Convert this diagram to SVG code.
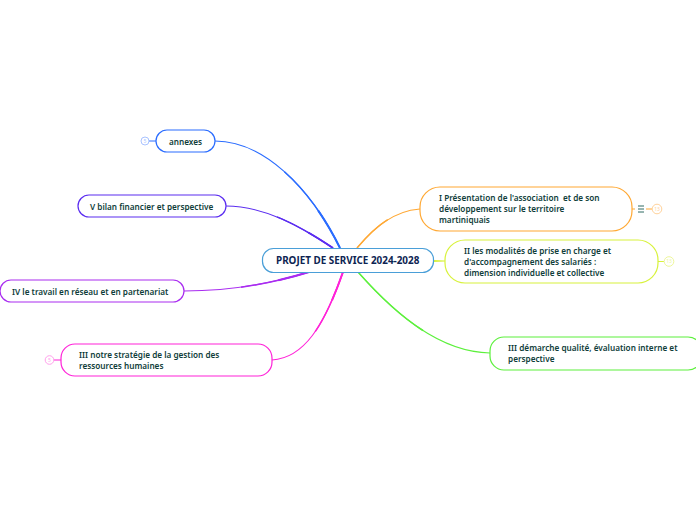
<svg xmlns="http://www.w3.org/2000/svg" width="696" height="520" viewBox="0 0 696 520">
<style>
text{font-family:"Noto Sans","DejaVu Sans",sans-serif;font-weight:600;font-size:8.2px;fill:#0f3d3a;white-space:pre}
.n{fill:#fff;stroke-width:1.2}
.b{fill:#fff;stroke-width:1}
.b2{font-size:5px;font-weight:400;text-anchor:middle}
.l{fill:none;stroke-width:1}
.c{fill:none;stroke-width:1.1}
.c2{fill:none;stroke-width:1.5;stroke-dasharray:55 100;stroke-dashoffset:-45}
.c3{fill:none;stroke-width:2;stroke-dasharray:25 100;stroke-dashoffset:-75}
</style>
<defs>
<path id="p1" pathLength="100" d="M215 141C262 141 309 185 340 248"/>
<path id="p2" pathLength="100" d="M226 206C264 206 300 226 333 248"/>
<path id="p3" pathLength="100" d="M184 291C230 291 270 284 309 272"/>
<path id="p4" pathLength="100" d="M272 360C304 358 324 326 343 272"/>
<path id="p5" pathLength="100" d="M420 209C392 211 373 229 357 248"/>
<path id="p6" pathLength="100" d="M490 353C440 352 396 315 358 272"/>
</defs>
<rect width="696" height="520" fill="#fff"/>
<g id="connectors">
<g stroke="#2a6cff"><use href="#p1" class="c"/><use href="#p1" class="c2"/><use href="#p1" class="c3"/></g>
<g stroke="#5b2df0"><use href="#p2" class="c"/><use href="#p2" class="c2"/><use href="#p2" class="c3"/></g>
<g stroke="#a92cf0"><use href="#p3" class="c"/><use href="#p3" class="c2"/><use href="#p3" class="c3"/></g>
<g stroke="#ff22d8"><use href="#p4" class="c"/><use href="#p4" class="c2"/><use href="#p4" class="c3"/></g>
<g stroke="#ffa833"><use href="#p5" class="c"/><use href="#p5" class="c2"/></g>
<path d="M434 260L445 260.500L445 261.500L434 262Z" fill="#d8f23c"/>
<g stroke="#5cf03c"><use href="#p6" class="c"/><use href="#p6" class="c2"/></g>
<path class="l" d="M632 209H635M652 209H646" stroke="#ffa833"/>
<path class="l" d="M658 261.500H664" stroke="#d8f23c"/>
<path class="l" d="M149 141H156" stroke="#2a6cff"/>
<path class="l" d="M54 360H61" stroke="#ff22d8"/>
</g>
<g id="center"><rect x="262.500" y="248.500" width="171" height="24" rx="11" fill="#fff" stroke="#4a9fd8" stroke-width="1.2"/><text x="276" y="264" style="font-size:9.9px;font-weight:700;fill:#0d2452">PROJET DE SERVICE 2024-2028</text></g>
<g id="annexes"><rect class="n" x="156" y="130" width="59" height="22" rx="11" stroke="#2a6cff"/><text x="169" y="144.500">annexes</text>
<circle class="b" cx="145" cy="141" r="4" stroke="#a9c3ff"/><text class="b2" x="145" y="142.800" style="fill:#a9c3ff">5</text></g>
<g id="v"><rect class="n" x="78" y="195" width="148" height="22" rx="11" stroke="#5b2df0"/><text x="90" y="209.500">V bilan financier et perspective</text></g>
<g id="iv"><rect class="n" x="0" y="280" width="184" height="22" rx="11" stroke="#a92cf0"/><text x="12" y="294.500">IV le travail en réseau et en partenariat</text></g>
<g id="iii-rh"><rect class="n" x="61" y="344" width="211" height="32" rx="14" stroke="#ff22d8"/><text x="79" y="358">III notre stratégie de la gestion des</text><text x="79" y="369">ressources humaines</text>
<circle class="b" cx="49.500" cy="360" r="4.300" stroke="#ffa0ec"/><text class="b2" x="49.500" y="361.800" style="fill:#ffa0ec">5</text></g>
<g id="i"><rect class="n" x="420" y="187" width="212" height="44" rx="20" stroke="#ffa833"/><text x="439" y="201">I Présentation de l'association  et de son</text><text x="439" y="212">développement sur le territoire</text><text x="439" y="223">martiniquais</text>
<path d="M638 206H644M638 209H644M638 212H644" stroke="#2f6b62" stroke-width="1" fill="none"/>
<circle class="b" cx="657" cy="209" r="4.800" stroke="#ffd29a"/><text class="b2" x="657" y="210.800" style="fill:#ffd29a">13</text></g>
<g id="ii"><rect class="n" x="445" y="240" width="213" height="43" rx="20" stroke="#d8f23c"/><text x="464" y="254">II les modalités de prise en charge et</text><text x="464" y="265">d'accompagnement des salariés :</text><text x="464" y="276">dimension individuelle et collective</text>
<circle class="b" cx="669" cy="261.500" r="4.800" stroke="#eef79a"/><text class="b2" x="669" y="263.300" style="fill:#eef79a">13</text></g>
<g id="iii-q"><rect class="n" x="490" y="337" width="212" height="33" rx="14" stroke="#5cf03c"/><text x="508" y="351">III démarche qualité, évaluation interne et</text><text x="508" y="362">perspective</text></g>
</svg>
